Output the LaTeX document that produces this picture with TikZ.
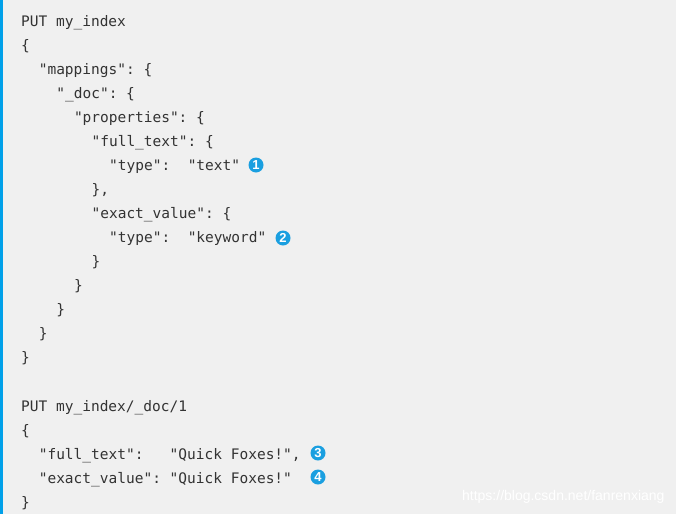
\documentclass[tikz,border=0pt]{standalone}
\usepackage{fontspec}
\setmonofont{DejaVu Sans Mono}
\setsansfont{Liberation Sans}
\definecolor{codebg}{HTML}{F0F0F0}
\definecolor{codebar}{HTML}{00A0E9}
\definecolor{codefg}{HTML}{333333}
\definecolor{badge}{HTML}{1A9FE0}
\tikzset{
  codeline/.style={anchor=base west, inner sep=0pt, text=codefg, font=\ttfamily\fontsize{14.5}{14.5}\selectfont},
  callout/.style={circle, fill=badge, text=white, inner sep=0pt, minimum size=15pt, font=\sffamily\bfseries\fontsize{13}{13}\selectfont}
}
\begin{document}
\begin{tikzpicture}[x=1pt,y=-1pt]
  \useasboundingbox (0,0) rectangle (676,514);
  \fill[codebg] (0,0) rectangle (676,514);
  \fill[codebar] (0,0) rectangle (3,514);

  % first request
  \node[codeline] (l1)  at (21,26)  {PUT my\_index};
  \node[codeline] (l2)  at (21,50)  {\{};
  \node[codeline] (l3)  at (38.6,74)  {"mappings": \{};
  \node[codeline] (l4)  at (56.2,98)  {"\_doc": \{};
  \node[codeline] (l5)  at (73.8,122) {"properties": \{};
  \node[codeline] (l6)  at (91.4,146) {"full\_text": \{};
  \node[codeline] (l7)  at (109,170)  {"type":~~"text"};
  \node[codeline] (l8)  at (91.4,194) {\},};
  \node[codeline] (l9)  at (91.4,218) {"exact\_value": \{};
  \node[codeline] (l10) at (109,242)  {"type":~~"keyword"};
  \node[codeline] (l11) at (91.4,266) {\}};
  \node[codeline] (l12) at (73.8,290) {\}};
  \node[codeline] (l13) at (56.2,314) {\}};
  \node[codeline] (l14) at (38.6,338) {\}};
  \node[codeline] (l15) at (21,362)   {\}};

  % second request
  \node[codeline] (m1) at (21,411)   {PUT my\_index/\_doc/1};
  \node[codeline] (m2) at (21,435)   {\{};
  \node[codeline] (m3) at (38.6,459) {"full\_text":~~~"Quick Foxes!",};
  \node[codeline] (m4) at (38.6,483) {"exact\_value": "Quick Foxes!"};
  \node[codeline] (m5) at (21,507)   {\}};

  % callouts
  \node[callout] (c1) at (256,165) {1};
  \node[callout] (c2) at (283,238) {2};
  \node[callout] (c3) at (318,453) {3};
  \node[callout] (c4) at (318,477) {4};

  \node[anchor=east, text=white, font=\sffamily\fontsize{14}{14}\selectfont] (wm) at (668,497) {https://blog.csdn.net/fanrenxiang};
\end{tikzpicture}
\end{document}
